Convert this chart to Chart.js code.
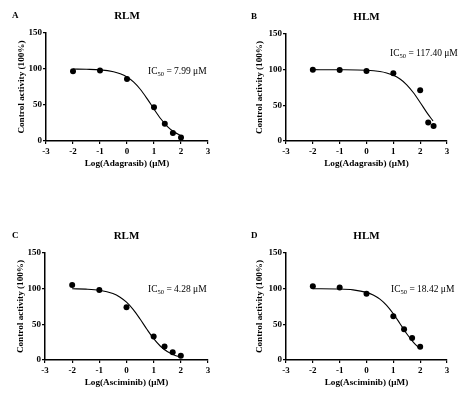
<!DOCTYPE html>
<html>
<head>
<meta charset="utf-8">
<script src="https://cdn.jsdelivr.net/npm/chart.js@4"></script>
<style>
  body { margin: 0; background: #fff; }
  #wrap { position: relative; width: 474px; height: 395px; background: #fff; }
  canvas { position: absolute; }
</style>
</head>
<body>
<div id="wrap">
  <canvas id="cA" width="237" height="200" style="left:0;top:0"></canvas>
  <canvas id="cB" width="237" height="200" style="left:237px;top:0"></canvas>
  <canvas id="cC" width="237" height="195" style="left:0;top:200px"></canvas>
  <canvas id="cD" width="237" height="195" style="left:237px;top:200px"></canvas>
</div>
<script>
// measured points, log10 concentration (uM) vs control activity (%)
const adaRlmX = [-2, -1, 0, 1, 1.4, 1.7, 2];
const adaRlmY = [97, 98, 86, 47, 24, 11, 5];
const adaHlmX = [-2, -1, 0, 1, 2, 2.3, 2.5];
const adaHlmY = [100, 99.5, 98, 95, 71, 26, 21];
const ascRlmX = [-2, -1, 0, 1, 1.4, 1.7, 2];
const ascRlmY = [105, 98, 74, 33, 19, 11, 6];
const ascHlmX = [-2, -1, 0, 1, 1.4, 1.7, 2];
const ascHlmY = [103.5, 101.7, 92.7, 61.5, 43, 30.8, 18.6];

// fitted curves
const adaRlmCurveX = [-2, -1.5, -1, -0.5, -0.25, 0, 0.25, 0.5, 0.75, 1, 1.25, 1.5, 1.75, 2];
const adaRlmCurveY = [100, 99.6, 98.8, 96.2, 93.4, 88.8, 81.7, 71.5, 58.5, 44.3, 30.9, 20.1, 12.4, 7.4];
const adaHlmCurveX = [-2, -1, 0, 0.5, 0.75, 1, 1.25, 1.5, 1.75, 2, 2.25, 2.48];
const adaHlmCurveY = [100, 99.9, 99.2, 97.4, 95.4, 92.2, 86.9, 78.8, 67.6, 54, 39.8, 28];
const ascRlmCurveX = [-2, -1.5, -1, -0.5, -0.25, 0, 0.25, 0.5, 0.75, 1, 1.25, 1.5, 1.75, 2];
const ascRlmCurveY = [99.8, 99.3, 97.7, 93.1, 88.4, 81, 70.6, 57.4, 43.1, 29.9, 19.3, 11.9, 7.1, 4.1];
const ascHlmCurveX = [-2, -1, -0.5, 0, 0.25, 0.5, 0.75, 1, 1.25, 1.5, 1.75, 2];
const ascHlmCurveY = [99.9, 99.5, 98.3, 94.8, 91.2, 85.3, 76.6, 64.8, 50.9, 36.8, 24.7, 15.5];

const xTicks = [-3, -2, -1, 0, 1, 2, 3];
const yTicks = [0, 50, 100, 150];

const panelLetters = ['A', 'B', 'C', 'D'];
const panelTitles = ['RLM', 'HLM', 'RLM', 'HLM'];
const xTitles = ['Log(Adagrasib) (μM)', 'Log(Adagrasib) (μM)', 'Log(Asciminib) (μM)', 'Log(Asciminib) (μM)'];
const ic50Values = ['7.99', '117.40', '4.28', '18.42'];

const serif = '"Liberation Serif", "Times New Roman", serif';

function toPts(xs, ys) {
  return xs.map((x, i) => ({ x: x, y: ys[i] }));
}

// extra text: panel letter, title, IC50 label
const labelsPlugin = {
  id: 'labels',
  afterDraw(chart, args, opts) {
    const ctx = chart.ctx;
    const a = chart.chartArea;
    ctx.save();
    ctx.fillStyle = '#000';
    ctx.textBaseline = 'middle';
    ctx.font = 'bold 9px ' + serif;
    ctx.textAlign = 'left';
    ctx.fillText(opts.letter, opts.letterX, a.top - 17);
    ctx.font = 'bold 11px ' + serif;
    ctx.textAlign = 'center';
    ctx.fillText(opts.title, (a.left + a.right) / 2, a.top - 17);
    // IC50 with subscript
    ctx.textAlign = 'left';
    let x = opts.icX;
    const y = opts.icY;
    ctx.font = '9.5px ' + serif;
    ctx.fillText('IC', x, y);
    x += ctx.measureText('IC').width;
    ctx.font = '6.5px ' + serif;
    ctx.fillText('50', x, y + 3);
    x += ctx.measureText('50').width;
    ctx.font = '9.5px ' + serif;
    ctx.fillText(' = ' + opts.ic + ' μM', x, y);
    ctx.restore();
  }
};

function makePanel(id, i, px, py, cx, cy, box) {
  const H = box.h;
  new Chart(document.getElementById(id), {
    type: 'scatter',
    data: {
      datasets: [
        {
          data: toPts(cx, cy),
          showLine: true,
          pointRadius: 0,
          borderColor: '#000',
          borderWidth: 1.1,
          cubicInterpolationMode: 'monotone',
          order: 2
        },
        {
          data: toPts(px, py),
          showLine: false,
          pointRadius: 3,
          pointBackgroundColor: '#000',
          pointBorderColor: '#000',
          borderWidth: 0,
          order: 1
        }
      ]
    },
    options: {
      responsive: false,
      animation: false,
      devicePixelRatio: 1,
      layout: { padding: { left: 0, top: box.top, right: box.right, bottom: 0 } },
      plugins: {
        legend: { display: false },
        tooltip: { enabled: false },
        labels: {
          letter: panelLetters[i],
          letterX: box.letterX,
          title: panelTitles[i],
          ic: ic50Values[i],
          icX: box.icX,
          icY: box.icY
        }
      },
      scales: {
        x: {
          type: 'linear',
          min: -3,
          max: 3,
          afterBuildTicks: s => { s.ticks = xTicks.map(v => ({ value: v })); },
          afterFit: s => { s.height = H - box.bottom; },
          grid: { drawOnChartArea: false, drawTicks: true, tickLength: 3, color: '#000', lineWidth: 1.2 },
          border: { display: true, color: '#000', width: 1.5 },
          ticks: { color: '#000', padding: 2, font: { family: serif, size: 9, weight: 'bold' } },
          title: {
            display: true,
            text: xTitles[i],
            color: '#000',
            font: { family: serif, size: 9.2, weight: 'bold' },
            padding: { top: 0, bottom: box.xTitlePad }
          }
        },
        y: {
          type: 'linear',
          min: 0,
          max: 150,
          afterBuildTicks: s => { s.ticks = yTicks.map(v => ({ value: v })); },
          afterFit: s => { s.width = box.left; },
          grid: { drawOnChartArea: false, drawTicks: true, tickLength: 3, color: '#000', lineWidth: 1.2 },
          border: { display: true, color: '#000', width: 1.5 },
          ticks: { color: '#000', padding: 1, font: { family: serif, size: 9, weight: 'bold' } },
          title: {
            display: true,
            text: 'Control activity (100%)',
            color: '#000',
            font: { family: serif, size: 9.2, weight: 'bold' },
            padding: { top: box.yTitlePad, bottom: 0 }
          }
        }
      }
    },
    plugins: [labelsPlugin]
  });
}

makePanel('cA', 0, adaRlmX, adaRlmY, adaRlmCurveX, adaRlmCurveY,
  { h: 200, left: 46, top: 33, right: 29, bottom: 141, xTitlePad: 31, yTitlePad: 16, letterX: 12, icX: 148, icY: 71 });
makePanel('cB', 1, adaHlmX, adaHlmY, adaHlmCurveX, adaHlmCurveY,
  { h: 200, left: 49, top: 34, right: 27, bottom: 141, xTitlePad: 31, yTitlePad: 17, letterX: 14, icX: 153, icY: 53 });
makePanel('cC', 2, ascRlmX, ascRlmY, ascRlmCurveX, ascRlmCurveY,
  { h: 195, left: 45, top: 53, right: 29, bottom: 160, xTitlePad: 7, yTitlePad: 15, letterX: 12, icX: 148, icY: 89 });
makePanel('cD', 3, ascHlmX, ascHlmY, ascHlmCurveX, ascHlmCurveY,
  { h: 195, left: 49, top: 53, right: 27, bottom: 160, xTitlePad: 7, yTitlePad: 17, letterX: 14, icX: 154, icY: 89 });
</script>
</body>
</html>
